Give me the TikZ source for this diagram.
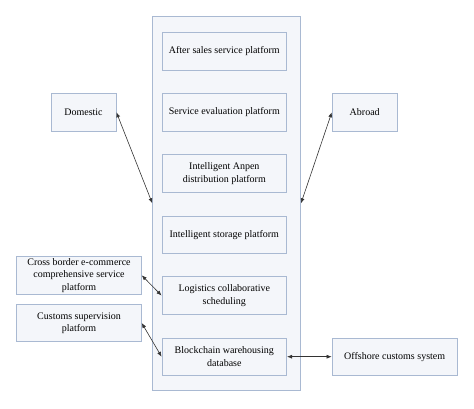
\documentclass[tikz,border=0pt]{standalone}
\usepackage{fontspec}
\setmainfont{Liberation Serif}
\usetikzlibrary{arrows.meta}
\definecolor{boxline}{HTML}{A9B9D2}
\definecolor{boxfill}{HTML}{F4F6FA}
\definecolor{arrowline}{HTML}{333333}
\begin{document}
\begin{tikzpicture}[x=1pt, y=-1pt,
            every node/.style={rectangle, align=center, font=\fontsize{10}{12.3}\selectfont},
            block/.style={draw=boxline, fill=boxfill, line width=0.8pt, minimum height=37.4pt, inner sep=1pt},
            inblock/.style={block, minimum width=124.7pt},
            sideblock/.style={block, minimum width=65pt},
            link/.style={draw=arrowline, line width=0.6pt, {Latex[length=5pt,width=4pt]}-{Latex[length=5pt,width=4pt]}}]
        \useasboundingbox (0,0) rectangle (474,408);
        % frame of the platform
        \node [block, minimum width=148pt, minimum height=374pt] (frame) at (226.3,203.7) {};
        \node [inblock] (after) at (224.3,51.2) {After sales service platform};
        \node [inblock] (eval) at (224.3,112.3) {Service evaluation platform};
        \node [inblock] (anpen) at (224.3,173.5) {Intelligent Anpen\\distribution platform};
        \node [inblock] (storage) at (224.3,234.7) {Intelligent storage platform};
        \node [inblock] (logi) at (224.3,295.5) {Logistics collaborative\\scheduling};
        \node [inblock] (chain) at (224.3,356.7) {Blockchain warehousing\\database};
        % outside
        \node [sideblock] (dom) at (83.5,112.3) {Domestic};
        \node [sideblock] (abroad) at (364.7,112.3) {Abroad};
        \node [inblock] (cross) at (79,275.3) {Cross border e-commerce\\comprehensive service\\platform};
        \node [inblock] (customs) at (79,323) {Customs supervision\\platform};
        \node [block, minimum width=125.3pt] (offshore) at (394.7,356.7) {Offshore customs system};
        \coordinate (frameL) at (152.3,203.3);
        \coordinate (frameR) at (301,203.3);
        \draw [link] (dom.east) -- (frameL);
        \draw [link] (abroad.west) -- (frameR);
        \draw [link] (cross.east) -- (logi.west);
        \draw [link] (customs.east) -- (chain.west);
        \draw [link] (chain.east) -- (offshore.west);
    \end{tikzpicture}
\end{document}
